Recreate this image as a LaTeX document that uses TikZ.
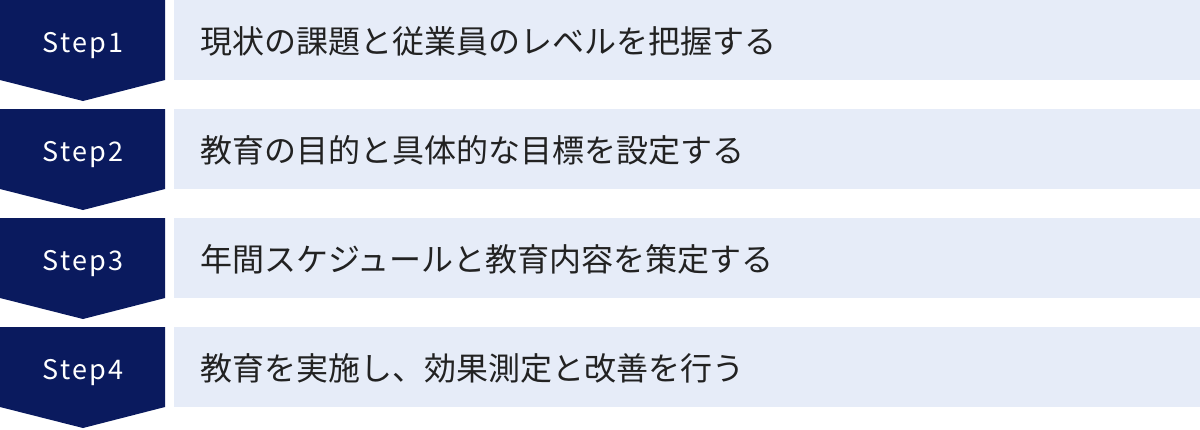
\documentclass[tikz,border=0pt]{standalone}
\usepackage{fontspec}
\newfontfamily\jpfont{Noto Sans CJK JP}
\newfontfamily\stepfont[LetterSpace=8]{Noto Sans CJK JP}
\definecolor{navy}{HTML}{0A1A5E}
\definecolor{pale}{HTML}{E6ECF8}
\definecolor{ink}{HTML}{222222}
\begin{document}
\begin{tikzpicture}[x=1pt,y=-1pt,
  stepshape/.style={fill=navy,draw=none},
  steplabel/.style={text=white,font=\stepfont\fontsize{27}{27}\selectfont,anchor=base,inner sep=0pt},
  bandbox/.style={fill=pale,draw=none},
  bandtext/.style={text=ink,font=\jpfont\fontsize{32}{32}\selectfont,anchor=west,inner sep=0pt}]
\useasboundingbox (0,0) rectangle (1200,429);
\foreach \i/\t [count=\k from 0] in {1/現状の課題と従業員のレベルを把握する,2/教育の目的と具体的な目標を設定する,3/年間スケジュールと教育内容を策定する,4/教育を実施し、効果測定と改善を行う}{
  \pgfmathsetmacro{\y}{\k*109}
  \fill[stepshape] (0,\y) -- (165,\y) -- (165,\y+80) -- (83,\y+101) -- (0,\y+80) -- cycle;
  \node[steplabel] (s\i) at (83,\y+52) {Step\i};
  \fill[bandbox] (174,\y) rectangle (1200,\y+80);
  \node[bandtext] (b\i) at (200,\y+41) {\t};
}
\end{tikzpicture}
\end{document}
